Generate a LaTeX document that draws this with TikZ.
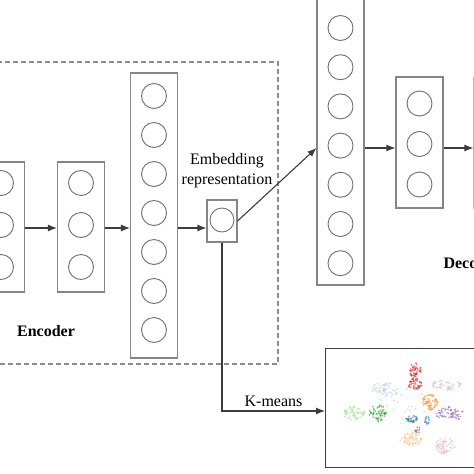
\documentclass[tikz,border=0pt]{standalone}
\usepackage{fontspec}
\setmainfont{Liberation Serif}
\usetikzlibrary{arrows.meta}

\definecolor{boxgray}{HTML}{858585}
\definecolor{unitgray}{HTML}{707070}
\definecolor{arrgray}{HTML}{3C3C3C}
\definecolor{dashgray}{HTML}{8C8C8C}
\definecolor{tred}{HTML}{D62728}
\definecolor{tlblue}{HTML}{AEC7E8}
\definecolor{tgreen}{HTML}{2CA02C}
\definecolor{tlgreen}{HTML}{98DF8A}
\definecolor{torange}{HTML}{FF7F0E}
\definecolor{tpurple}{HTML}{9467BD}
\definecolor{tblue}{HTML}{1F77B4}
\definecolor{tlorange}{HTML}{FFBB78}
\definecolor{tpink}{HTML}{F4A3B4}
\definecolor{tlpurple}{HTML}{C5B0D5}
\definecolor{tbrown}{HTML}{8C564B}

% one blob of the t-SNE scatter: x, y, spread x, spread y, points, colour
\newcommand\scatterblob[6]{%
  \foreach \i in {1,...,#5}{%
    \pgfmathsetmacro\rr{sqrt(rnd)}%
    \pgfmathsetmacro\aa{360*rnd}%
    \pgfmathsetmacro\px{#1+#3*\rr*cos(\aa)}%
    \pgfmathsetmacro\py{#2+#4*\rr*sin(\aa)}%
    \fill[#6,opacity=.6] (\px,\py) circle (1);
  }}

\begin{document}
\begin{tikzpicture}[x=1pt,y=-1pt,
    layer/.style={draw=boxgray,line width=1.1pt,minimum width=47pt,inner sep=0pt},
    unit/.style={circle,draw=unitgray,line width=0.9pt,minimum size=25pt,inner sep=0pt},
    arr/.style={draw=arrgray,line width=1.1pt,-{Latex[length=9pt,width=7pt]}},
    lbl/.style={font=\fontsize{16}{20}\selectfont}]
	\useasboundingbox (0,0) rectangle (474,474);
	\pgfmathsetseed{11}

	% encoder
	\draw[dashgray,line width=1.1pt,dash pattern=on 5pt off 3pt] (-10,62) rectangle (278,364);
	\node[layer,minimum height=130pt] (enc1) at (1,227) {};
	\node[layer,minimum height=130pt] (enc2) at (81,227) {};
	\node[layer,minimum height=285pt] (enc3) at (154,215.5) {};
	\foreach \k/\y in {1/183,2/225,3/267} {
		\node[unit] (enc1u\k) at (1,\y) {};
		\node[unit] (enc2u\k) at (81,\y) {};
	}
	\foreach \k in {0,...,6}
		\node[unit] (enc3u\k) at (154,96+39*\k) {};

	\node[layer,minimum width=30pt,minimum height=42pt] (emb) at (222,221) {};
	\node[unit,minimum size=24pt] (embu) at (222,220) {};

	% decoder
	\node[layer,minimum height=287pt] (dec1) at (340.5,141.5) {};
	\node[layer,minimum height=131pt] (dec2) at (419.5,142.5) {};
	\node[layer,draw=boxgray!60,minimum height=130pt] (dec3) at (497.5,143) {};
	\foreach \k in {0,...,6}
		\node[unit] (dec1u\k) at (340.5,28+39.2*\k) {};
	\foreach \k in {0,1,2}
		\node[unit] (dec2u\k) at (419.5,103.5+40.5*\k) {};

	\coordinate (row) at (0,228);
	\coordinate (row2) at (0,148);
	\draw[arr] (enc1.east |- row) -- (enc2.west |- row);
	\draw[arr] (enc2.east |- row) -- (enc3.west |- row);
	\draw[arr] (enc3.east |- row) -- (emb.west |- row);
	\draw[arr] (emb.east) -- (dec1.west |- row2);
	\draw[arr] (dec1.east |- row2) -- (dec2.west |- row2);
	\draw[arr] (dec2.east |- row2) -- (dec3.west |- row2);

	\node[lbl,align=center] (embl) at (227,171) {Embedding\\representation};
	\node[lbl] (encl) at (46,331) {\bfseries Encoder};
	\node[lbl,anchor=west] (decl) at (440,263) {\bfseries Decoder};

	% clustering
	\node[draw=arrgray,line width=1.4pt,minimum width=200pt,minimum height=119pt,inner sep=0pt,anchor=north west] (plot) at (325,348) {};
	\coordinate (kin) at (325,411);
	\draw[arr] (emb.south) |- (kin) node[pos=0.75,above,lbl] {K-means};

	\scatterblob{402}{404}{26}{20}{30}{gray!45}
	\scatterblob{415}{370}{6}{8}{45}{tred}
	\scatterblob{415}{384}{7}{6}{45}{tred}
	\scatterblob{385}{389}{13}{7}{45}{tlblue}
	\scatterblob{354}{413}{11}{7}{55}{tlgreen}
	\scatterblob{378}{413}{9}{9}{55}{tgreen}
	\scatterblob{430}{402}{8}{8}{50}{torange}
	\scatterblob{450}{414}{14}{7}{65}{tpurple}
	\scatterblob{412}{419}{6}{3.5}{30}{tblue}
	\scatterblob{427}{420}{3.5}{4.5}{14}{tblue}
	\scatterblob{411}{439}{11}{7}{55}{tlorange}
	\scatterblob{445}{446}{10}{8}{50}{tpink}
	\scatterblob{446}{385}{15}{5.5}{40}{tlpurple}
	\scatterblob{418}{430}{3}{3}{10}{tbrown}
\end{tikzpicture}
\end{document}
